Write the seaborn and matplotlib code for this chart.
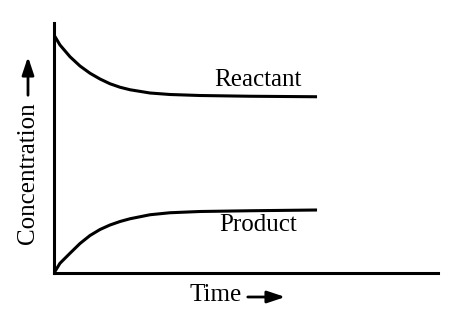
import matplotlib
matplotlib.use("Agg")
import matplotlib.pyplot as plt
import seaborn as sns
import pandas as pd

# Data (arbitrary units, axis 0..10)
time_points = [0.0, 0.156, 0.417, 0.677, 0.938, 1.198, 1.458, 1.72, 1.98, 2.5, 3.02, 3.8, 5.1, 6.85]
reactant = [9.52, 9.12, 8.65, 8.28, 7.99, 7.76, 7.57, 7.43, 7.33, 7.20, 7.14, 7.10, 7.07, 7.05]
product = [0.0, 0.39, 0.79, 1.18, 1.50, 1.74, 1.92, 2.06, 2.17, 2.33, 2.41, 2.46, 2.49, 2.52]
series_labels = ["Reactant", "Product"]
x_label = "Time"
y_label = "Concentration"

df = pd.concat([
    pd.DataFrame({"t": time_points, "c": reactant, "s": series_labels[0]}),
    pd.DataFrame({"t": time_points, "c": product, "s": series_labels[1]}),
])

sns.set_theme(style="white")
plt.rcParams["font.family"] = ["Liberation Serif", "DejaVu Serif"]

W, H = 450, 330
fig = plt.figure(figsize=(W / 100, H / 100), dpi=100)
ax = fig.add_axes([54 / W, 1 - 273 / H, 384 / W, 250 / H])

sns.lineplot(data=df, x="t", y="c", units="s", estimator=None, color="black",
             linewidth=2.2, ax=ax, legend=False, sort=False,
             solid_joinstyle="round", solid_capstyle="butt")

ax.set_xlim(0, 10)
ax.set_ylim(0, 10)
ax.set_xticks([])
ax.set_yticks([])
ax.set_xlabel("")
ax.set_ylabel("")
for side in ["top", "right"]:
    ax.spines[side].set_visible(False)
for side in ["left", "bottom"]:
    ax.spines[side].set_color("black")
    ax.spines[side].set_linewidth(2.2)

ax.text(5.31, 7.72, series_labels[0], ha="center", va="center", fontsize=18, color="black")
ax.text(5.31, 1.92, series_labels[1], ha="center", va="center", fontsize=18, color="black")

# x label with arrow
fig.text(216 / W, 1 - 295 / H, x_label, ha="center", va="center", fontsize=18, color="black")
ax.annotate("", xy=(288 / W, 1 - 297 / H), xytext=(245 / W, 1 - 297 / H),
            xycoords="figure fraction", textcoords="figure fraction",
            arrowprops=dict(arrowstyle="-|>,head_length=0.9,head_width=0.3", color="black", lw=2))

# y label with arrow
fig.text(28 / W, 1 - 173 / H, y_label, ha="center", va="center", rotation=90, fontsize=18, color="black")
ax.annotate("", xy=(28 / W, 1 - 54 / H), xytext=(28 / W, 1 - 98 / H),
            xycoords="figure fraction", textcoords="figure fraction",
            arrowprops=dict(arrowstyle="-|>,head_length=0.9,head_width=0.3", color="black", lw=2))

fig.savefig("out.png", dpi=100)
